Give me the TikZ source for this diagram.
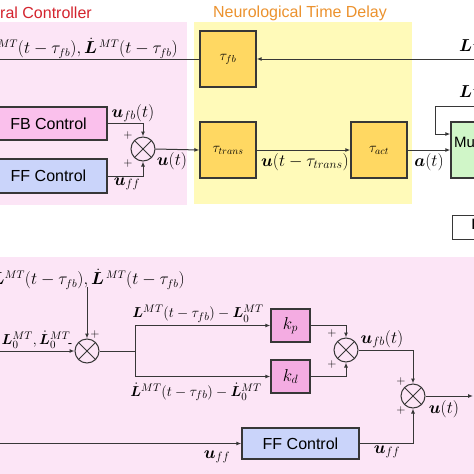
\documentclass[tikz,border=0pt]{standalone}
\usepackage{amsmath,bm}
\usepackage[no-math]{fontspec}
\setmainfont{Liberation Sans}
\usetikzlibrary{arrows.meta}
\definecolor{ncpink}{RGB}{252,229,246}
\definecolor{ntyellow}{RGB}{255,250,185}
\definecolor{delayfill}{RGB}{255,216,98}
\definecolor{fbfill}{RGB}{250,192,236}
\definecolor{kfill}{RGB}{244,172,226}
\definecolor{fffill}{RGB}{202,212,250}
\definecolor{musfill}{RGB}{208,246,200}
\definecolor{titlered}{RGB}{212,36,46}
\definecolor{titleorange}{RGB}{236,146,46}
\definecolor{linecol}{RGB}{55,55,55}
\tikzset{
  arr/.style={draw=linecol,line width=1pt,-{Latex[length=5pt,width=4pt]}},
  wire/.style={draw=linecol,line width=1pt},
  box/.style={draw=linecol,line width=1.3pt,inner sep=0pt,font=\fontsize{16}{19}\selectfont},
  delaybox/.style={box,fill=delayfill,minimum width=56pt,minimum height=56pt,font=\fontsize{14}{16}\selectfont},
  kbox/.style={box,fill=kfill,minimum width=39pt,minimum height=33pt,font=\fontsize{17}{19}\selectfont},
  sumnode/.style={circle,draw=linecol,line width=1pt,minimum size=24pt,inner sep=0pt},
  lbl/.style={inner sep=0pt,font=\fontsize{16.5}{19}\selectfont},
  lblw/.style={inner sep=0pt,font=\fontsize{16}{19}\selectfont},
  lbls/.style={inner sep=0pt,font=\fontsize{15}{18}\selectfont},
  pm/.style={inner sep=0pt,font=\fontsize{13}{15}\selectfont},
  title/.style={inner sep=0pt,font=\fontsize{16}{19}\selectfont}
}
\newcommand{\xsum}[1]{\draw[wire] (#1.north west) -- (#1.south east) (#1.north east) -- (#1.south west);}
\begin{document}
\begin{tikzpicture}[x=1pt,y=-1pt]
\clip (0,0) rectangle (474,474);
\fill[white] (0,0) rectangle (474,474);
% regions
\fill[ncpink] (-20,22) rectangle (187,205);
\fill[ntyellow] (194,22) rectangle (412,204);
\fill[ncpink] (-20,257) rectangle (494,494);
% titles
\node[title,text=titlered,anchor=east] (t1) at (92,13) {Neural Controller};
\node[title,text=titleorange] (t2) at (300,13) {Neurological Time Delay};
% ---------- top ----------
\node[delaybox] (taufb) at (228,59) {$\tau_{fb}$};
\node[delaybox] (tautrans) at (228,150) {$\tau_{trans}$};
\node[delaybox] (tauact) at (379,150) {$\tau_{act}$};
\node[box,fill=fbfill,minimum width=117pt,minimum height=33pt] (fb) at (48.5,123.5) {FB Control};
\node[box,fill=fffill,minimum width=117pt,minimum height=34pt] (ff) at (48.5,176) {FF Control};
\node[sumnode] (s1) at (143,149) {};
\xsum{s1}
\node[box,fill=musfill,minimum width=69pt,minimum height=56pt] (mus) at (485.5,150) {};
\node[anchor=west,inner sep=0pt,font=\fontsize{15}{17}\selectfont] (musl) at (454,142) {Muscle-Tendon};
\node[box,fill=white,line width=1pt,minimum width=96pt,minimum height=24pt] (body) at (500,227) {};
\node[anchor=west,inner sep=0pt,font=\fontsize{15}{17}\selectfont\bfseries] (bodyl) at (471.5,226) {Body};
\coordinate (qr) at (480,59);
\coordinate (ql) at (-5,59);
\coordinate (lpr) at (480,106);
\coordinate (lpc) at (435,134);
\draw[arr] (qr) -- (taufb.east);
\draw[wire] (taufb.west) -- (ql);
\draw[arr] (fb.east) -| (s1.north);
\draw[arr] (ff.east) -| (s1.south);
\draw[arr] (s1.east) -- (tautrans.west);
\draw[arr] (tautrans.east) -- (tauact.west);
\draw[arr] (tauact.east) -- (mus.west);
\draw[arr] (lpr) -| (lpc) -- (lpc -| mus.west);
% top labels
\node[lblw,anchor=east] (lt) at (178,48) {$\bm{L}^{MT}(t-\tau_{fb}),\dot{\bm{L}}^{\,MT}(t-\tau_{fb})$};
\node[lbl,anchor=west] (lr1) at (459,46) {$\bm{L}^{MT}(t),\dot{\bm{L}}^{MT}(t)$};
\node[lbl,anchor=west] (lr2) at (459,92) {$\bm{L}^{MT}(t)$};
\node[lbl] (ufb1) at (133,113) {$\bm{u}_{fb}(t)$};
\node[lbl] (uff1) at (127,184) {$\bm{u}_{ff}$};
\node[lbl] (ut1) at (172,161) {$\bm{u}(t)$};
\node[lbl] (utr) at (305,162) {$\bm{u}(t-\tau_{trans})$};
\node[lbl] (at) at (429,162) {$\bm{a}(t)$};
\node[pm] (p1) at (128,135) {$+$};
\node[pm] (p2) at (128,163) {$+$};
% ---------- bottom ----------
\node[sumnode] (s2) at (87,351) {};
\xsum{s2}
\node[kbox] (kp) at (290.5,325.5) {$k_p$};
\node[kbox] (kd) at (290.5,376.5) {$k_d$};
\node[sumnode] (s3) at (346,350) {};
\xsum{s3}
\node[sumnode] (s4) at (413,396) {};
\xsum{s4}
\node[box,fill=fffill,minimum width=117pt,minimum height=31pt] (ff2) at (300.5,443.5) {FF Control};
\coordinate (btop) at (87,287);
\coordinate (bleft) at (-5,351);
\coordinate (br) at (135,351);
\coordinate (bout) at (473,396);
\coordinate (ffin) at (-5,443.5);
\draw[arr] (btop) -- (s2.north);
\draw[arr] (bleft) -- (s2.west);
\draw[wire] (s2.east) -- (br);
\draw[arr] (br) |- (kp.west);
\draw[arr] (br) |- (kd.west);
\draw[arr] (kp.east) -| (s3.north);
\draw[arr] (kd.east) -| (s3.south);
\draw[arr] (s3.east) -| (s4.north);
\draw[arr] (ff2.east) -| (s4.south);
\draw[arr] (s4.east) -- (bout);
\draw[arr] (ffin) -- (ff2.west);
% bottom labels
\node[lblw,anchor=east] (lb) at (185,279) {$\bm{L}^{MT}(t-\tau_{fb}),\dot{\bm{L}}^{\,MT}(t-\tau_{fb})$};
\node[lbls] (l0) at (36,340) {$\bm{L}_0^{MT},\dot{\bm{L}}_0^{MT}$};
\node[pm] (m0) at (70,346) {-};
\node[pm] (p3) at (95,334) {$+$};
\node[lbls] (lkp) at (198,314) {$\bm{L}^{MT}(t-\tau_{fb})-\bm{L}_0^{MT}$};
\node[lbls] (lkd) at (196,392) {$\dot{\bm{L}}^{MT}(t-\tau_{fb})-\dot{\bm{L}}_0^{MT}$};
\node[pm] (p4) at (332,333) {$+$};
\node[pm] (p5) at (332,364) {$+$};
\node[lbl] (ufb2) at (382,339) {$\bm{u}_{fb}(t)$};
\node[pm] (p6) at (401,381) {$+$};
\node[pm] (p7) at (401,410) {$+$};
\node[lbl] (ut2) at (444,409) {$\bm{u}(t)$};
\node[lbl] (uff2) at (387,452) {$\bm{u}_{ff}$};
\node[lbl] (uff3) at (217,457) {$\bm{u}_{ff}$};
\end{tikzpicture}
\end{document}
